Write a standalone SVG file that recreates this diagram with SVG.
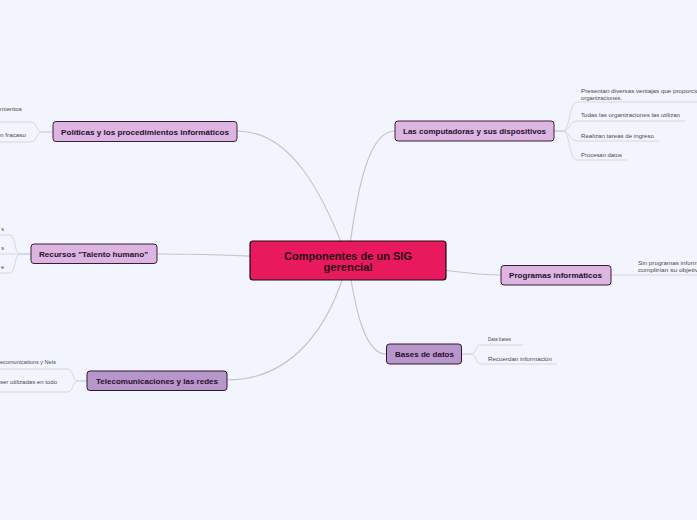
<svg xmlns="http://www.w3.org/2000/svg" width="697" height="520" viewBox="0 0 697 520">
<style>
.bg{fill:#f2f5fd}
.main{fill:none;stroke:#c3c3c8;stroke-width:1.1}
.sub{fill:none;stroke:#d3d4da;stroke-width:0.9}
.t1{fill:#dcb5e1;stroke:#3b1a42;stroke-width:1}
.t2{fill:#b796ca;stroke:#2e1436;stroke-width:1}
.ctr{fill:#e8195c;stroke:#1c0c12;stroke-width:1.2}
.tt{font-family:"Liberation Sans",Arial,sans-serif;font-weight:bold;font-size:8px;fill:#2a0d2e}
.ct{font-family:"Liberation Sans",Arial,sans-serif;font-weight:bold;font-size:10.5px;fill:#2a0a16}
.st{font-family:"Liberation Sans",Arial,sans-serif;font-size:5.6px;fill:#4a4a4a}
</style>
<rect class="bg" x="0" y="0" width="697" height="520"/>
<g id="connectors">
<path class="main" d="M237,131 C290,131 322,190 348,260"/>
<path class="main" d="M395,131 C370,131 358,180 348,260"/>
<path class="main" d="M157,254 C250,254 300,260 348,260"/>
<path class="main" d="M501,275 C450,275 400,260 348,260"/>
<path class="main" d="M386,354 C365,354 355,310 348,260"/>
<path class="main" d="M227,380 C290,380 330,330 348,260"/>
<path class="sub" d="M554,131 H563 C570,131 569,102 577,102 H697"/>
<path class="sub" d="M554,131 H563 C570,131 569,121 577,121 H685"/>
<path class="sub" d="M554,131 H563 C570,131 569,141 577,141 H659"/>
<path class="sub" d="M554,131 H563 C570,131 569,160 577,160 H627"/>
<path class="sub" d="M611,275 H697"/>
<path class="sub" d="M461,354 H471 C477,354 475,345 481,345 H523"/>
<path class="sub" d="M461,354 H471 C477,354 475,364 481,364 H557"/>
<path class="sub" d="M53,132 H42 C36,132 37,122 31,122 H0"/>
<path class="sub" d="M53,132 H42 C36,132 37,142 31,142 H0"/>
<path class="sub" d="M31,254 H20 C14,254 16,235 10,235 H0"/>
<path class="sub" d="M31,254 H0"/>
<path class="sub" d="M31,254 H20 C14,254 16,273 10,273 H0"/>
<path class="sub" d="M87,381 H78 C72,381 74,369 67,369 H0"/>
<path class="sub" d="M87,381 H78 C72,381 74,392 67,392 H0"/>
</g>
<g id="n-politicas">
<rect class="t1" x="53" y="121.5" width="184" height="20" rx="3"/>
<text class="tt" x="61" y="134.5" textLength="168" lengthAdjust="spacingAndGlyphs">Políticas y los procedimientos informáticos</text>
</g>
<g id="n-politicas-c1"><text class="st" x="0" y="111" textLength="22" lengthAdjust="spacingAndGlyphs">mientos</text></g>
<g id="n-politicas-c2"><text class="st" x="0" y="136.5" textLength="26" lengthAdjust="spacingAndGlyphs">n fracaso</text></g>
<g id="n-computadoras">
<rect class="t1" x="395" y="121" width="159" height="20" rx="3"/>
<text class="tt" x="403" y="134" textLength="143" lengthAdjust="spacingAndGlyphs">Las computadoras y sus dispositivos</text>
</g>
<g id="n-comp-c1">
<text class="st" x="581" y="93" textLength="118" lengthAdjust="spacingAndGlyphs">Presentan diversas ventajas que proporcio</text>
<text class="st" x="581" y="99.5" textLength="41" lengthAdjust="spacingAndGlyphs">organizaciones.</text>
</g>
<g id="n-comp-c2"><text class="st" x="581" y="117" textLength="99" lengthAdjust="spacingAndGlyphs">Todas las organizaciones las utilizan</text></g>
<g id="n-comp-c3"><text class="st" x="581" y="137.5" textLength="73" lengthAdjust="spacingAndGlyphs">Realizan tareas de ingreso</text></g>
<g id="n-comp-c4"><text class="st" x="581" y="157" textLength="41" lengthAdjust="spacingAndGlyphs">Procesan datos</text></g>
<g id="n-recursos">
<rect class="t1" x="31" y="244" width="126" height="19.5" rx="3"/>
<text class="tt" x="39" y="256.8" textLength="109" lengthAdjust="spacingAndGlyphs">Recursos "Talento humano"</text>
</g>
<g id="n-rec-c1"><text class="st" x="4" y="231" text-anchor="end">s</text></g>
<g id="n-rec-c2"><text class="st" x="4" y="250" text-anchor="end">s</text></g>
<g id="n-rec-c3"><text class="st" x="4" y="269" text-anchor="end">e</text></g>
<g id="n-center">
<rect class="ctr" x="250" y="241" width="196" height="39" rx="3"/>
<text class="ct" x="348" y="259.5" text-anchor="middle" textLength="128" lengthAdjust="spacingAndGlyphs">Componentes de un SIG</text>
<text class="ct" x="348" y="270.5" text-anchor="middle" textLength="49" lengthAdjust="spacingAndGlyphs">gerencial</text>
</g>
<g id="n-programas">
<rect class="t1" x="501" y="265.5" width="110" height="19.5" rx="3"/>
<text class="tt" x="509" y="278.3" textLength="93" lengthAdjust="spacingAndGlyphs">Programas informáticos</text>
</g>
<g id="n-prog-c1">
<text class="st" x="638" y="265" textLength="60" lengthAdjust="spacingAndGlyphs">Sin programas inform</text>
<text class="st" x="638" y="271.5" textLength="60" lengthAdjust="spacingAndGlyphs">cumplirían su objetiv</text>
</g>
<g id="n-bases">
<rect class="t2" x="386.5" y="344" width="75" height="20" rx="3"/>
<text class="tt" x="395" y="357" textLength="59" lengthAdjust="spacingAndGlyphs">Bases de datos</text>
</g>
<g id="n-bases-c1"><text class="st" x="488" y="341" textLength="23" lengthAdjust="spacingAndGlyphs">Data bases</text></g>
<g id="n-bases-c2"><text class="st" x="488" y="361" textLength="64" lengthAdjust="spacingAndGlyphs">Recuerdan información</text></g>
<g id="n-telecom">
<rect class="t2" x="87" y="371" width="140" height="19.5" rx="3"/>
<text class="tt" x="96" y="383.8" textLength="122" lengthAdjust="spacingAndGlyphs">Telecomunicaciones y las redes</text>
</g>
<g id="n-tel-c1"><text class="st" x="0" y="364" textLength="56" lengthAdjust="spacingAndGlyphs">ecomunications y Nets</text></g>
<g id="n-tel-c2"><text class="st" x="0" y="384" textLength="57" lengthAdjust="spacingAndGlyphs">ser utilizadas en todo</text></g>
</svg>
